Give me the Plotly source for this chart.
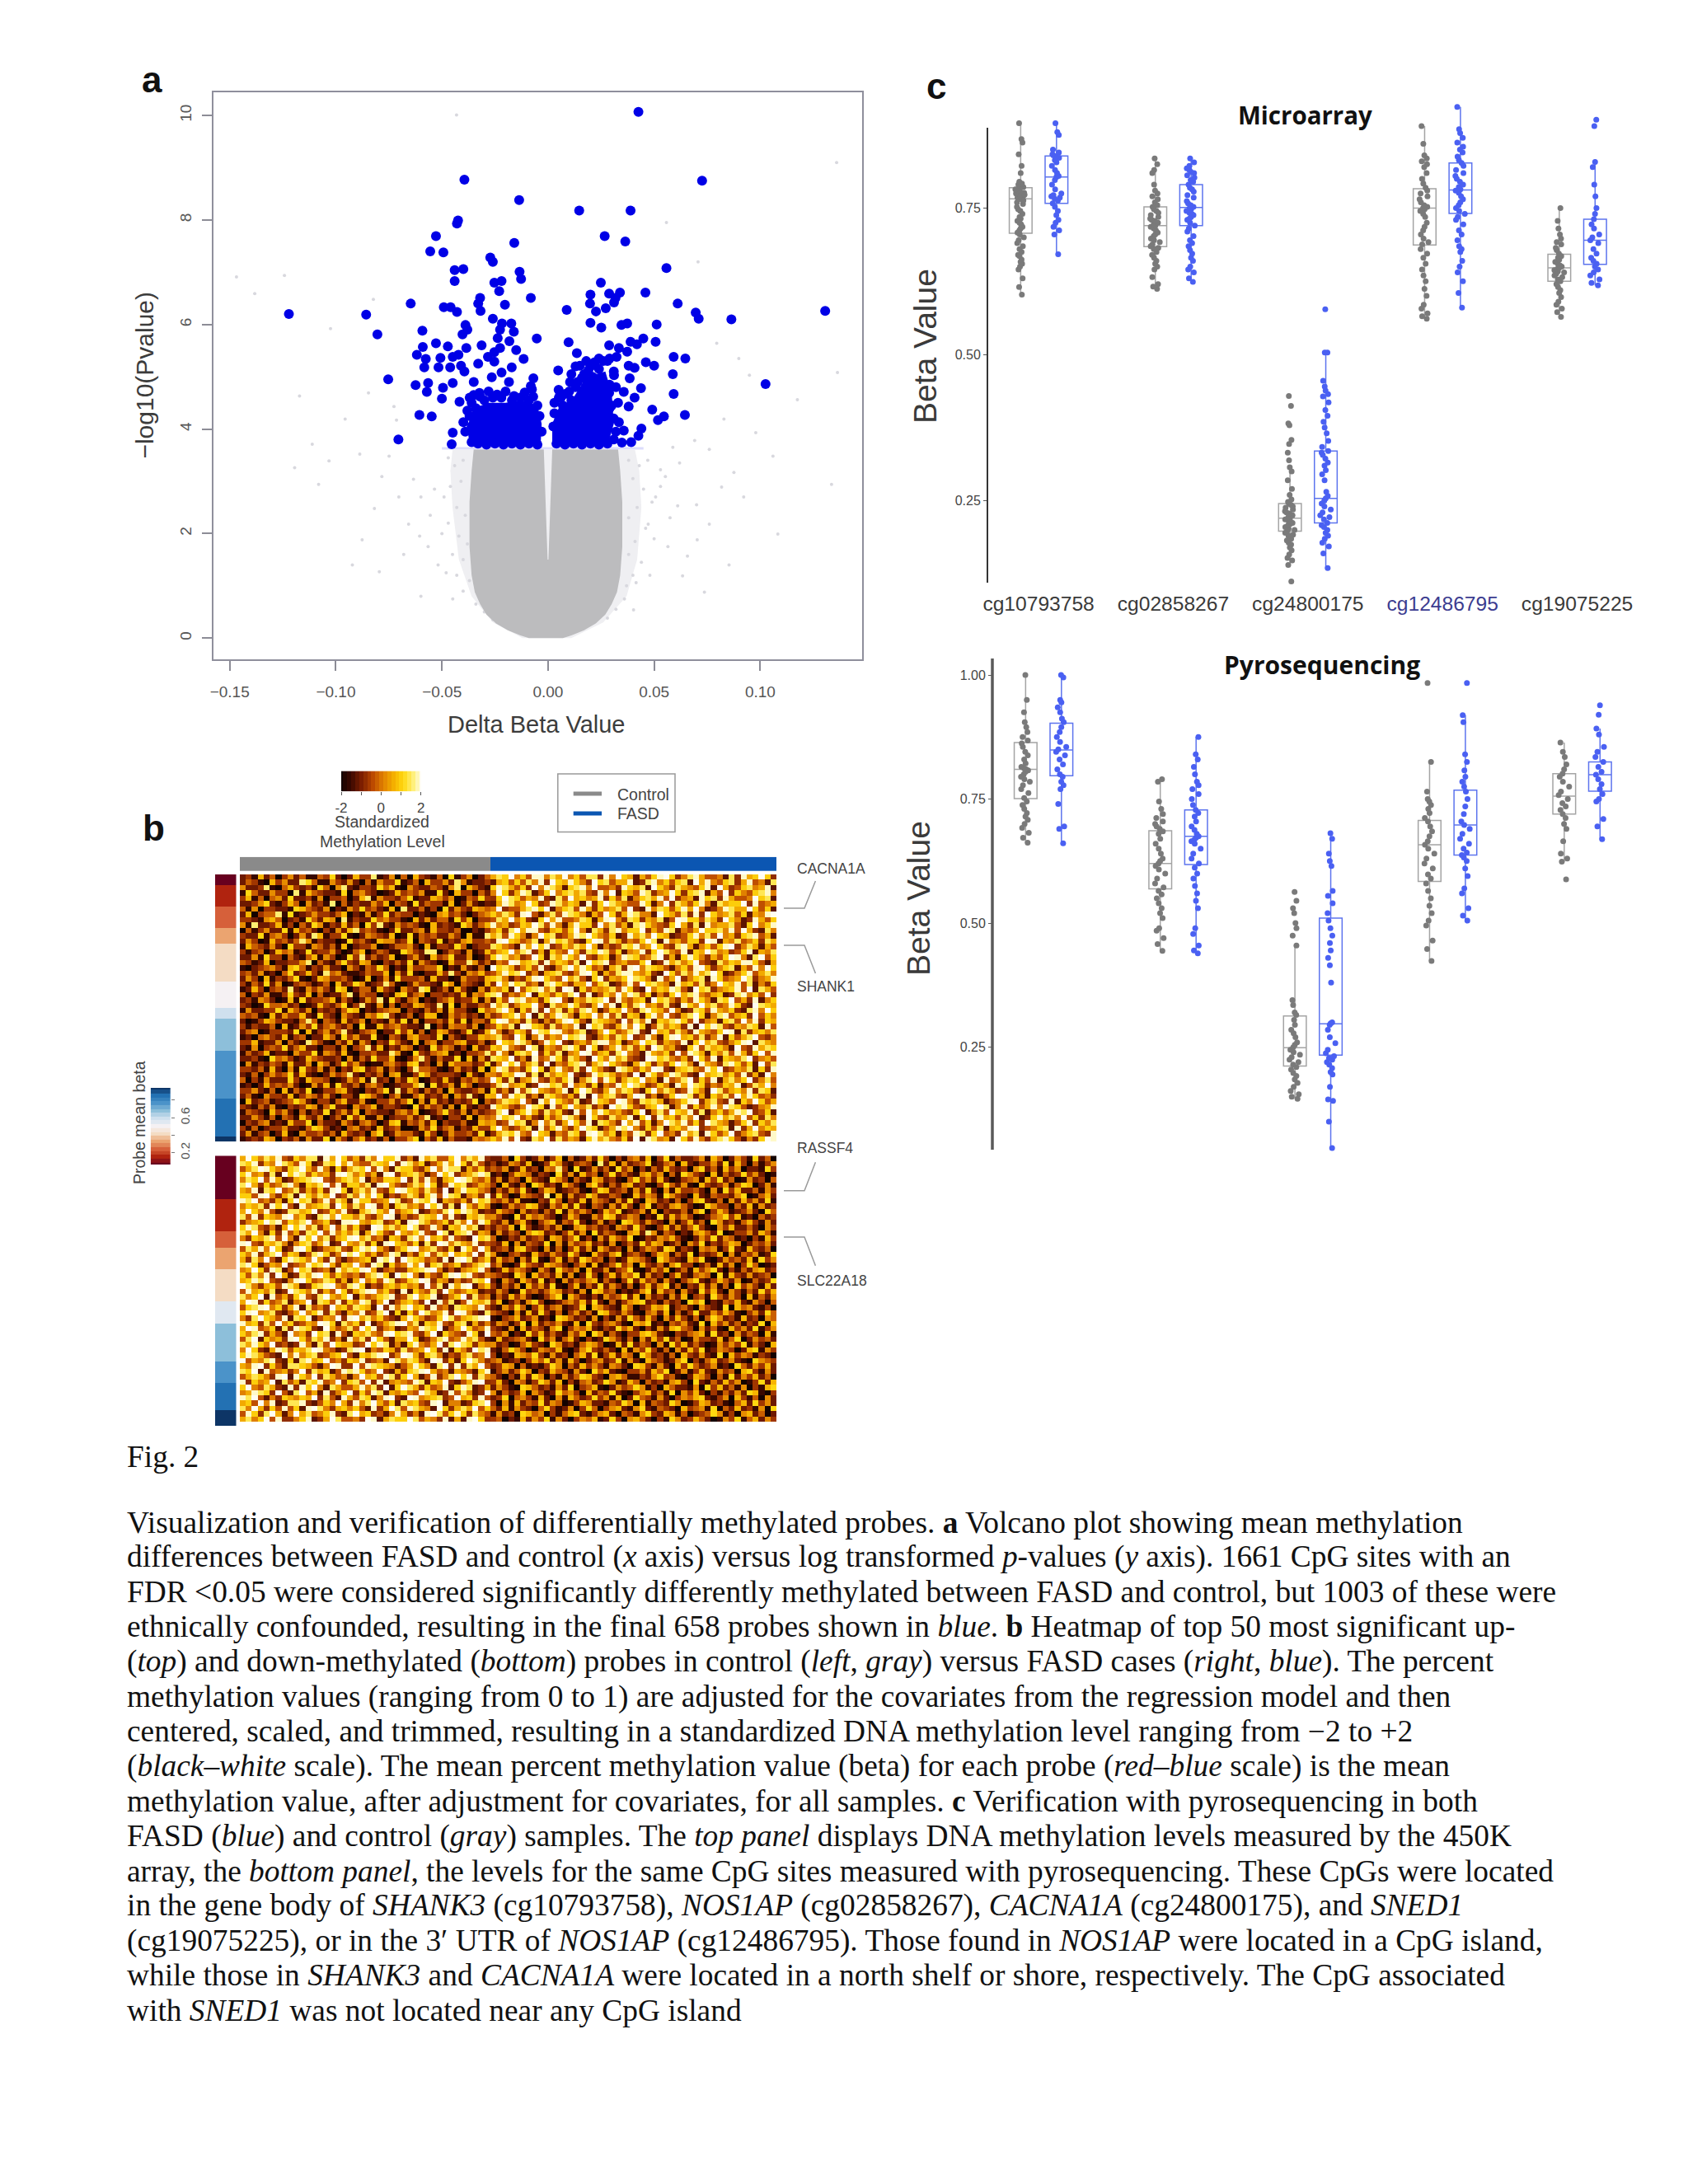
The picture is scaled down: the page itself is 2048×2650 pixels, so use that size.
import numpy as np
import plotly.graph_objects as go

W, H = 2048, 2650
def X(p): return p / W
def Y(p): return 1 - p / H
def dx(a, b): return [X(a), X(b)]
def dy(top, bottom): return [Y(bottom), Y(top)]

# ---------- panel a: volcano ----------
blue_x = [.0426,-.0394,.0726,-.0136,.0147,.0389,-.0424,-.0429,-.0528,.0267,-.0555,-.0493,-.0159,.0364,-.0272,-.0260,-.0440,-.0399,.0558,-.0134,-.0127,-.0440,-.0219,-.0253,.0249,-.0230,.0200,.0459,.0339,.0288,-.0081,-.0320,-.0329,-.0647,.0611,-.0203,.0198,.0318,.0311,-.0491,-.0459,-.0429,-.0318,.0088,.0226,.0272,-.0857,-.1221,.0696,.0710,.1306,.0864,-.0260,.0512,-.0173,-.0217,.0200,.0346,.0373,.0251,-.0389,-.0380,-.0226,-.0161,-.0804,-.0592,-.0403,-.0053,-.0237,.0507,.0449,.0419,.0389,.0097,-.0182,-.0528,-.0472,-.0590,-.0385,-.0313,-.0226,.0288,.0334,.0373,.0592,.0647,-.0618,-.0422,.0136,-.0576,-.0507,-.0449,-.0253,-.0150,-.0115,-.0283,.0323,.0461,.0500,-.0583,-.0516,-.0461,-.0410,-.0394,-.0329,-.0253,-.0171,.0048,.0588,.0150,.0380,.0408,.0311,-.0753,-.0350,-.0219,-.0265,-.0184,-.0069,-.0081,.0104,-.0624,-.0565,-.0449,-.0495,.0385,.0357,.0438,.0592,.0408,-.0571,-.0500,-.0417,-.0369,-.0323,-.0076,.0051,.0081,.1025,.0380,.0491,.0645,.0546,.0518,-.0606,-.0548,-.0705,-.0449,-.0454,-.0399,.0440,.0426,.0392,.0334,.0357,.0348,.0288,.0230,.0173,.018,.022,.026,.029,.024,.019,.013,.011,.016,.021,.025,.029,.013,.019,.023,.027,.011,.015,.020,.025,.030,.007,.003,-.035,-.03,-.026,-.022,-.017,-.013,-.009,-.005,-.034,-.037,-.03,
-.036,-.033,-.029,-.025,-.021,-.017,-.013,-.009,-.005,.004,.008,.012,.016,.02,.024,.028,.031,.032,.031,.029,-.036,-.032,-.028,-.024,-.02,-.016,-.011,-.007,-.004,-.003,-.039,-.038,-.036,.003,.006,.01,.014,.017,.02,.024,.028,.031,.032,.033,.0025,.005]
blue_y = [10.07,8.77,8.75,8.38,8.18,8.18,7.99,7.93,7.69,7.69,7.40,7.38,7.56,7.59,7.28,7.20,7.04,7.06,7.08,7.01,6.87,6.83,6.83,6.80,6.80,6.64,6.57,6.61,6.61,6.59,6.51,6.51,6.40,6.40,6.40,6.38,6.40,6.51,6.42,6.33,6.33,6.24,6.26,6.28,6.25,6.31,6.19,6.20,6.23,6.11,6.26,6.10,6.11,6.00,6.02,6.02,6.03,5.99,6.02,5.94,5.99,5.90,5.90,5.86,5.81,5.88,5.81,5.73,5.74,5.67,5.73,5.62,5.67,5.66,5.68,5.64,5.58,5.57,5.55,5.60,5.55,5.60,5.55,5.48,5.38,5.35,5.42,5.42,5.45,5.34,5.36,5.38,5.47,5.51,5.34,5.38,5.38,5.28,5.21,5.18,5.18,5.18,5.21,5.10,5.25,5.29,5.18,5.12,5.05,5.21,5.21,5.17,5.03,4.95,4.90,5.08,4.99,4.90,4.97,4.82,4.90,4.84,4.88,4.88,4.79,4.97,4.71,4.78,4.67,4.60,4.71,4.58,4.52,4.60,4.69,4.76,4.60,4.67,4.86,4.43,4.37,4.27,4.24,4.17,4.27,4.24,3.80,3.93,3.71,4.13,4.01,3.87,3.75,4.13,3.97,3.74,4.69,4.95,4.69,5.3,5.28,5.3,5.35,5.15,5.12,5.2,5.05,4.98,5.0,4.9,4.85,4.8,4.82,4.7,4.6,4.55,4.5,4.5,4.45,4.45,4.45,4.3,4.65,4.55,4.6,4.6,4.55,4.6,4.55,4.45,4.4,4.25,4.35,
3.75,3.72,3.7,3.72,3.7,3.72,3.7,3.72,3.7,3.72,3.7,3.72,3.7,3.72,3.7,3.72,3.8,3.95,4.2,4.4,4.5,4.62,4.72,4.66,4.72,4.63,4.7,4.62,4.25,3.95,3.95,4.35,4.05,4.5,4.6,4.72,4.9,5.05,5.2,5.35,5.3,5.1,4.8,4.5,4.05,4.75]
faint_x = [-.0431,.136,.0558,.0707,-.1468,-.1242,-.1382,-.0823,-.1025,.0795,.0899,.0949,.1364,.1175,-.1171,-.0846,-.1111,-.0956,.0829,.0691,.076,.0979,.106,-.1032,-.1194,-.0887,.0876,.1336,-.1081,.0818,.0922,-.0818,.0507,-.0876,.1083,.0703,-.0922,.0853,.0737,-.0599,-.0795,.0634,-.0703,-.0599,.0553,.0611,-.0749,-.0783,-.0657,-.0565,-.0518,.0472,.0565,-.0714,-.0726,.076,.0657,-.0634,.053,.0588,.0415,-.0449,.0403,-.0555,-.0605,-.0535,.0530,.0575,.0620,-.0680,.0700,
-.04,-.044,-.047,-.041,-.046,-.049,-.043,-.039,-.047,-.05,-.042,-.038,-.045,-.04,-.048,-.043,-.037,-.04,-.034,-.03,-.026,.038,.043,.047,.04,.045,.049,.042,.038,.046,.05,.041,.038,.044,.048,.04,.037,.036,.032,.028]
faint_y = [10.01,9.10,7.95,7.20,6.91,6.94,6.59,6.48,5.92,5.64,5.35,5.03,5.08,4.56,4.63,4.69,3.71,4.19,4.19,3.78,3.61,3.93,3.48,3.39,3.26,3.52,3.17,2.94,2.94,2.89,2.70,2.48,2.70,1.88,1.99,1.88,1.40,1.40,.88,.80,1.27,1.19,2.70,2.70,3.09,2.53,3.48,3.09,2.18,1.75,1.40,2.18,1.75,4.17,4.43,2.18,1.57,3.04,3.22,3.65,1.06,.75,.54,2.35,1.95,2.85,2.90,2.30,3.35,1.60,2.55,
3.4,3.3,3.45,3.0,2.9,2.7,2.5,2.35,2.2,2.0,1.95,1.8,1.6,1.5,1.25,1.2,1.1,.9,.65,.5,.35,3.4,3.3,3.4,3.05,2.85,2.6,2.5,2.3,2.1,1.9,1.85,1.6,1.45,1.2,1.2,1.0,.75,.55,.38]
halo_x = [-.012,-.026,-.036,-.042,-.045,-.046,-.045,.041,.043,.044,.042,.037,.026,.011]
halo_y = [0,.3,.8,1.5,2.5,3.2,3.6,3.6,3.2,2.5,1.5,.8,.3,0]
cloud_x = [-.009,-.013,-.019,-.0245,-.029,-.032,-.0345,-.036,-.037,-.037,-.036,-.035,-.002,-.001,-.0002,.0002,.001,.002,.033,.034,.035,.035,.034,.0325,.03,.027,.0225,.017,.011,.007]
cloud_y = [0,.05,.15,.28,.45,.65,.88,1.2,1.75,2.6,3.2,3.62,3.62,2.6,1.5,1.5,2.6,3.62,3.62,3.2,2.6,1.75,1.2,.88,.65,.45,.28,.15,.05,0]
dense_left_x = [-.037,-.038,-.035,-.028,-.02,-.012,-.005,-.003,-.0035]
dense_left_y = [3.68,4.05,4.4,4.5,4.5,4.55,4.45,4.1,3.68]
dense_right_x = [.002,.002,.005,.012,.018,.027,.030,.031,.028]
dense_right_y = [3.68,4.1,4.4,4.6,5.0,5.1,4.7,4.1,3.68]
band_x = [-.05,.045]
band_y = [3.63,3.63]
volcano_xticks = [-.15,-.10,-.05,0,.05,.10]
volcano_xlabels = ["−0.15","−0.10","−0.05","0.00","0.05","0.10"]
volcano_yticks = [0,2,4,6,8,10]

# ---------- panel b: heatmaps (0 = -2 ... 9 = +2); [control part, FASD part] ----------
heat_top_rows = [
"342735146352254830374492361507432518246135"+"576946388475946377284965153689624785334172856962475388",
"354217463398522643631526448235174463962334"+"156363748296586429673558127846367195843672583417968",
"633492157434285169324438572164335426917532"+"687536294875167849334286571964275436819523674581475",
"285336441927543328156431237454622831744153"+"496258713694675732849165387245962678153926436784752",
"472515638334260445137926443582337646125484"+"269763548217395645826371467583924518672853349671865",
"334683247516342905243364715428354427136323"+"158745962387465182697543386149275368417566928345746",
"526144332875436132648453271933524183643765"+"492335786914673852645739218476368594124875596361728",
"371455928234644357132624835440321674531356"+"647528931473876415396258744196537282964573615489362",
"443267513428537619243385644217363552847144"+"375946216958334761589427625471398663752964128536473",
"629334724153862437351849326454217343286357"+"845236597384158662947351786432695271845573169468254",
"152463382745314263794542138335627443510324"+"462795883256369417527846692538714359667483952174538",
"433825641363972448213654371282545336417229"+"573864149672358796436128574965123684739452678351846",
"364127453596243312845327663481543824367445"+"289653471586742169837524369718453662981547346275697",
"275436318442653527134460235563172443851344"+"764318596823647595142376845963278514636892475153764",
"424513756238344630257135422864399135426237"+"356947825164395276873614582697438165974523681547462",
"336284415325726412849353471246327458336124"+"687452396175864932561487634792516864253698417936583",
"542371334469153258437621435382643127449635"+"143985672846537196782453369128574693217465886315742",
"213456427852436331642548513274455813263251"+"967524638214795863415728947653146389524671538496673",
"453623158347429563223544716382133749426574"+"358679241567324896153788546219637485796124683574361",
"364172435821376445302713628444527331264437"+"674132589643957316825469764183592467186345972458526",
"425383612454235173486234952136443286154327"+"295867341786425593671248396754185637249658371426895",
"237414539326464287135527431643982352742163"+"546193678472981635457386219465873196724568391753248",
"514362248437152336925441327835614434372658"+"782435916536479281364958736142695784356127846392575",
"342653127283445725313649284256132457344726"+"163978452689315476792843561967425386417693528146937",
"431285563412374358249326151437643928153354"+"857246693174586325948163794537218649573486219765324",
"263344827536143425871324566143253627442185"+"479516382947263785136594278653941276385462178496853",
"545217364473284316432658942351377126453426"+"235684917358741659483726516849325796147835629364178",
"312476433259515427346143263826144537382553"+"698452731425896317654293748165786392451673948265746",
"424335172364835643518227456433291426553614"+"364719865273548196732584961374652819687325476183594",
"356124443817246359324561338472513763248237"+"841365297698435712596347821956374285436981725647362",
"231564372451337528463382154267443815324476"+"573296148354967821463759238416895637248163579324685",
"447233615329642153726414385327156244673352"+"296587413869214537884613596725438169573246891754327",
"326145483573314426145937243651328465241734"+"658432971543786296135847362974521683756419328576143",
"253472331644826537214453396218435672314459"+"384167592637145983562794318546293875164738526938465",
"334218564237543341625384472136942533817263"+"765924183486275319648573219867435296381654792453678",
"162435427336175248463122564378341627555348"+"149683572914367825796431586253697418542786361937524",
"443527316284362514378346253149554213634271"+"587342696158437296421875364982156743869235471628594",
"325146458373213645932435167224863444317326"+"436598271746592138675342918635874219567463825194763",
"514263338427554123647293415386124373254645"+"962714583253681479386257694518347926381574692473158",
"231374546312637284352564123447918346275133"+"378456129867394526143869752364185976243658137594826",
"446325172538124467321435829364253517433462"+"624183795435816973258476316947523864197356482761539",
"352164437246536314428753146225734361649327"+"593867241764352819467325982413698725164739586342687",
"173452345863144257336214463581627342434815"+"247659318596437128653984276751346892573281649635472",
"432536214347625833164572443218364526173243"+"865324976183695472419786325697148263584976312458163",
"254317463152438246371543325647123584362534"+"379146852746218395864532691473965827146358792361586",
"336425154274361352847226134463592314427165"+"486793521635874196327458169285637491268574936274513",
"143562327448153326425641378254637143352276"+"523867149472596381764295836149758362975413682647398",
"425134463325874231563427345112648356243744"+"694235718368425976135879426371564892346718259465837",
"362451372164453527434168236553274136445382"+"257684396514376289746153872693428571863592467328164",
"234376143526338164257342514468153725332656"+"648392175927354168574362918745196384257863142698573",
]
heat_bot_rows = [
"596475832647718596352749668241857336947582"+"335184236247152363841425637148253346275136428351743",
"768254975386127695843376592874613585962731"+"423653712486324541937263458235617324463827415246532",
"357986426795384162576938417663259487715362"+"546237341659418236352846142537434168352746133284651",
"684527196873645289746351892567413968245787"+"231476524318362745148353267461528643172534846312375",
"476938512567893246758143665927384156987435"+"362541743286415327634215846373124562748351263415348",
"795263478416579382664718953247596138672354"+"417325186342753168425367342148536217434625871362543",
"548176934725362896157483269865374291586643"+"253648314762345214873452638316274453162847335264127",
"663894257186475923748596132475268397614528"+"384126543917263486335412746528643173254436812573346",
"879342516967248375186634597238769154352867"+"546372214385143726542638317634251478325163746382451",
"465728693184567296374982516745396827195364"+"213645873264738315426374158243675312864415372634253",
"596483127756923648215786493568124379687512"+"375416342538264641375823462714335268147523463185347",
"738265489462178596647325981423765938216574"+"642183756431375226487346513283746412356847231534618",
"245697836579346218895467236189753462749386"+"436257314672548313624187536431624735186342574263425",
"687324159684725937362198574697238416585713"+"354718423536126745342653842147363584216473353164726",
"759416283527693846471586329546832971678254"+"263541687342473618354216739625413267538124463752341",
"426578394186947256895734165278495638321967"+"512436345276358241637548124365742136483652314274563",
"893265741467358129547261896536172984754823"+"437162543816264573426135384762351648243576135463284",
"375849612896124573268795314689457326186395"+"345278431625147362753416246538724316562483274351627",
"648257936513786249796352487142683759564927"+"621453274364385217436824531476253814347162546238415",
"527493168764952831345618792976534281897246"+"374516382147253864514237653186432758213645372846351",
"786135492348679526594287163485926734623578"+"462138543765314627235846174352684413527361485123746",
"459628713967234185768951342256789413145683"+"237465316428546173362458213647135274683142536734825",
"637482951275896364342578619794153268978324"+"543286174537261384147365826341473256518274363451627",
"568793214896347625159463872367982541423769"+"316427538241635467253148374526314683247536125348476",
"974256387512678943786132564645293718589146"+"425361746382147253836425147368251437362518464273156",
"385647129764825396257894631816437295346512"+"364128453576342618745132368274516328473164253847261",
"746918352683279546915346782379568124692734"+"253746312468175324264583716342637145285364172536348",
"598263471459176382648725913564291837138657"+"471352684123564738315246783425341868132547326415763",
"367894625817342956376519284795628341765483"+"326485147356234817643275134768245316432817563241574",
"689457213594682731548237916163974582984217"+"543162738425146352874364215637152483364752146385236",
"427965381768135492895746321586423697356789"+"214573462318753426142638537416374251586342734165283",
"856273946235498617462913578947165832671524"+"365248173546327184356421768231546328174635243817345",
"598346172876219534739682451254876913596348"+"432617354268146573243857314263785416352174638246513",
"647825319452967183165743896783259164328619"+"546132847353264718625314478632143567283416354172638",
"379164528963758241847296315596124783485731"+"273456318462573142386425163748351264437258136453274",
"758649231284173965523968714168435927976254"+"634125743186342576412738354162847353126464825317346",
"496215873657984312789143652734596281642978"+"325864136547213684353172648425163748236541378264513",
"687532194846723569316578924985267413257349"+"413276584263415738247365186342517436328174652431867",
"935478216178569342658234197476319825169742"+"562341475836274135634826317542368142573463218654327",
"548926317765314982293876541358641792827593"+"347615232486153746426531874263174853462318536473142",
"769183452492756138786349215267895341543168"+"246358614375426318573214463758136247326451784263615",
"357642891864927534149563872695138247968274"+"531427386142635874316752243684521376415283647351426",
"826459173517683492673928145438716592135892"+"473165248637142563486237515342674183253746124837362",
"694375218286941753358472916975263481687125"+"364218753426381457213645862417533261847352614278543",
"458762931793518246926387154643975128374129"+"625347164238564173548321467352816473142536387214635",
"879314265465927318537614892198456723956283"+"348156427316275348462713854263146578324617425163847",
"563948127782136495284795361756328914412679"+"416273548365124763325486172543861247634215738463125",
"749526383618974256463182597387541962575936"+"537264315842361485146732683254317456281537342618474",
"386279514957346821795623148524189736862743"+"263418756142578324673154268437625134586241673513486",
"574693822468125973342981576697354281518962"+"451327364826314657238416753142863475312648257364135",
]
top_level_shift = [-1.0, 0.7]   # control part, FASD part
bot_level_shift = [0.7, -1.0]
heat_scale = [[0,"#140200"],[.12,"#3a0800"],[.25,"#7c1e00"],[.4,"#bc4a00"],[.52,"#e07f00"],[.66,"#f6b300"],[.78,"#ffd810"],[.9,"#fff07c"],[1,"#fffdf0"]]
probe_top = [.065]*2+[.15]*4+[.24]*4+[.33]*3+[.415]*7+[.5]*5+[.59]*2+[.68]*6+[.765]*9+[.85]*7+[.94]*1
probe_bot = [.065]*8+[.15]*6+[.24]*3+[.33]*4+[.415]*6+[.55]*4+[.68]*7+[.765]*4+[.85]*5+[.94]*3
beta_scale = [[0,"#67001f"],[.1,"#b2240f"],[.2,"#d6603a"],[.3,"#eba26e"],[.4,"#f4dcc4"],[.5,"#f5f2f4"],[.6,"#cfe0ee"],[.7,"#8fc0da"],[.8,"#4b93c9"],[.9,"#2270b2"],[1,"#0d3566"]]
beta_legend = [.065,.11,.15,.2,.24,.29,.33,.37,.415,.46,.5,.55,.59,.63,.68,.72,.765,.81,.85,.9,.94]
std_legend = [-2,-1.8,-1.6,-1.4,-1.2,-1,-.8,-.6,-.4,-.2,0,.2,.4,.6,.8,1,1.2,1.4,1.6,1.8,2]

# ---------- panel c: boxplots ----------
cpg_labels = ["cg10793758","cg02858267","cg24800175","cg12486795","cg19075225"]
micro_gray_stats = dict(q1=[.707,.684,.198,.687,.625], median=[.766,.72,.22,.75,.648], q3=[.785,.752,.245,.783,.671], low=[.602,.612,.14,.561,.564], up=[.895,.835,.30,.89,.75])
micro_blue_stats = dict(q1=[.758,.72,.212,.741,.654], median=[.803,.751,.254,.781,.695], q3=[.839,.79,.335,.827,.731], low=[.671,.624,.135,.58,.618], up=[.895,.835,.503,.923,.829])
pyro_gray_stats = dict(q1=[.751,.569,.212,.584,.72], median=[.81,.62,.249,.658,.756], q3=[.864,.686,.313,.707,.801], low=[.662,.444,.146,.424,.624], up=[1.0,.79,.454,.825,.864])
pyro_blue_stats = dict(q1=[.797,.618,.234,.637,.766], median=[.849,.675,.297,.698,.799], q3=[.903,.728,.51,.768,.825], low=[.661,.439,.047,.504,.669], up=[1.0,.875,.681,.919,.892])

micro_gray = [
[895,868,862,842,822,810,795,792,790,788,786,784,782,780,778,776,775,773,771,770,768,766,765,763,760,757,752,748,745,740,735,732,728,725,722,718,715,712,708,705,700,695,690,685,680,675,670,668,662,658,655,650,645,630,615,602],
[835,825,815,810,790,780,775,770,765,760,755,752,748,745,742,738,735,732,730,728,725,722,720,718,715,712,708,705,702,698,695,692,688,685,682,680,675,670,665,660,655,650,645,632,620,616,612],
[429,412,382,379,354,347,332,319,307,300,285,270,260,252,248,245,243,240,238,235,232,230,228,225,222,220,218,216,214,212,210,208,205,202,200,198,195,192,190,185,182,178,175,170,165,158,152,148,140,112],
[890,860,840,835,830,825,820,810,800,792,785,780,775,770,765,760,755,752,750,748,745,740,735,725,718,712,705,698,692,688,680,672,665,655,645,635,625,612,600,585,578,570,565,561],
[750,728,715,705,698,692,688,682,678,672,668,665,662,658,655,652,650,648,646,644,642,640,638,635,632,628,625,620,615,610,605,598,590,585,578,572,564]]
micro_blue = [
[895,880,875,850,845,842,840,838,836,832,828,822,815,810,805,803,798,790,782,775,772,770,768,766,763,758,752,745,738,730,725,718,712,705,671],
[835,828,822,818,815,812,810,806,802,798,795,790,785,782,778,772,768,762,758,755,752,750,748,745,742,740,738,735,732,730,725,720,715,710,702,695,690,685,678,672,665,660,650,645,640,630,624],
[577,503,503,455,445,438,432,428,418,405,395,385,375,365,352,342,335,332,328,322,315,310,302,295,285,265,258,254,250,245,240,235,230,225,222,218,212,208,205,200,195,190,185,178,172,160,135],
[923,885,878,870,862,855,850,845,838,832,827,822,815,810,805,800,795,790,786,782,780,776,770,765,760,755,750,745,740,735,730,722,712,705,695,685,680,675,660,650,640,625,605,580],
[901,890,829,820,790,770,750,740,731,722,715,705,700,695,690,680,672,665,660,655,650,645,640,635,628,622,618]]
pyro_gray = [
[1000,950,925,905,895,885,875,868,862,855,845,838,830,822,815,812,810,808,805,800,795,790,785,778,770,762,752,745,738,730,722,715,708,700,692,682,672,662],
[790,785,745,730,720,712,705,700,695,690,685,680,670,660,650,640,630,625,620,615,608,600,590,580,572,565,558,550,540,530,520,510,490,485,470,458,444],
[563,545,530,520,500,490,475,455,345,335,320,315,305,295,285,278,270,260,255,250,245,240,235,230,225,220,215,210,205,198,192,185,178,170,162,155,150,146],
[984,825,765,750,745,738,730,722,712,705,695,685,675,665,658,650,640,630,620,610,598,590,580,565,550,535,520,505,495,465,448,424],
[864,845,835,820,810,801,795,785,775,765,758,750,742,735,728,720,712,700,690,665,640,630,624,588]]
pyro_blue = [
[1000,995,950,945,935,925,912,905,895,885,875,865,855,850,845,838,830,820,810,800,795,785,778,770,740,695,690,661],
[875,840,830,815,800,785,778,770,760,750,738,728,722,715,705,695,688,680,675,672,668,665,660,650,640,630,620,612,600,590,575,560,545,530,490,478,455,445,439],
[681,670,640,625,615,565,555,540,520,505,490,475,460,445,430,415,380,300,298,295,285,270,258,245,238,232,228,225,220,215,208,200,195,170,142,145,100,47],
[984,919,905,840,825,808,795,785,775,765,750,735,720,705,698,690,680,670,660,650,642,637,632,625,610,595,570,560,530,515,505],
[939,920,892,880,855,845,835,825,815,805,799,790,780,770,760,750,745,710,695,669]]

caption_lines = [
"Visualization and verification of differentially methylated probes. <b>a</b> Volcano plot showing mean methylation",
"differences between FASD and control (<i>x</i> axis) versus log transformed <i>p</i>-values (<i>y</i> axis). 1661 CpG sites with an",
"FDR &lt;0.05 were considered significantly differently methylated between FASD and control, but 1003 of these were",
"ethnically confounded, resulting in the final 658 probes shown in <i>blue</i>. <b>b</b> Heatmap of top 50 most significant up-",
"(<i>top</i>) and down-methylated (<i>bottom</i>) probes in control (<i>left</i>, <i>gray</i>) versus FASD cases (<i>right</i>, <i>blue</i>). The percent",
"methylation values (ranging from 0 to 1) are adjusted for the covariates from the regression model and then",
"centered, scaled, and trimmed, resulting in a standardized DNA methylation level ranging from −2 to +2",
"(<i>black–white</i> scale). The mean percent methylation value (beta) for each probe (<i>red–blue</i> scale) is the mean",
"methylation value, after adjustment for covariates, for all samples. <b>c</b> Verification with pyrosequencing in both",
"FASD (<i>blue</i>) and control (<i>gray</i>) samples. The <i>top panel</i> displays DNA methylation levels measured by the 450K",
"array, the <i>bottom panel</i>, the levels for the same CpG sites measured with pyrosequencing. These CpGs were located",
"in the gene body of <i>SHANK3</i> (cg10793758), <i>NOS1AP</i> (cg02858267), <i>CACNA1A</i> (cg24800175), and <i>SNED1</i>",
"(cg19075225), or in the 3′ UTR of <i>NOS1AP</i> (cg12486795). Those found in <i>NOS1AP</i> were located in a CpG island,",
"while those in <i>SHANK3</i> and <i>CACNA1A</i> were located in a north shelf or shore, respectively. The CpG associated",
"with <i>SNED1</i> was not located near any CpG island",
]

SANS = "Liberation Sans"
SERIF = "Liberation Serif"
fig = go.Figure()

def poly(xs, ys, color):
    fig.add_trace(go.Scatter(x=xs, y=ys, mode="lines", fill="toself", fillcolor=color, line=dict(width=0), hoverinfo="skip", xaxis="x", yaxis="y"))

poly(halo_x, halo_y, "#efeff2")
fig.add_trace(go.Scatter(x=faint_x, y=faint_y, mode="markers", marker=dict(size=4, color="#d8d8de"), xaxis="x", yaxis="y"))
poly(cloud_x, cloud_y, "#bcbcbe")
fig.add_trace(go.Scatter(x=band_x, y=band_y, mode="lines", line=dict(color="#dcdcfb", width=3), xaxis="x", yaxis="y"))
poly(dense_left_x, dense_left_y, "#0000e6")
poly(dense_right_x, dense_right_y, "#0000e6")
fig.add_trace(go.Scatter(x=blue_x, y=blue_y, mode="markers", marker=dict(size=12, color="#0000e6"), xaxis="x", yaxis="y"))

def digits(rows, shift):
    z = np.array([[int(c) for c in r.ljust(90, r[-1])[:90]] for r in rows], dtype=float)
    z[:, :42] += shift[0]
    z[:, 42:] += shift[1]
    return np.clip(z, 0, 9)

fig.add_trace(go.Heatmap(z=digits(heat_top_rows, top_level_shift), zmin=0, zmax=9, colorscale=heat_scale, showscale=False, xaxis="x2", yaxis="y2"))
fig.add_trace(go.Heatmap(z=digits(heat_bot_rows, bot_level_shift), zmin=0, zmax=9, colorscale=heat_scale, showscale=False, xaxis="x3", yaxis="y3"))
fig.add_trace(go.Heatmap(z=[[v] for v in probe_top], zmin=.065, zmax=.94, colorscale=beta_scale, showscale=False, xaxis="x4", yaxis="y4"))
fig.add_trace(go.Heatmap(z=[[v] for v in probe_bot], zmin=.065, zmax=.94, colorscale=beta_scale, showscale=False, xaxis="x5", yaxis="y5"))
fig.add_trace(go.Heatmap(z=[[0]*42+[1]*48], zmin=0, zmax=1, colorscale=[[0,"#8a8a8a"],[1,"#0b56b2"]], showscale=False, xaxis="x6", yaxis="y6"))
fig.add_trace(go.Heatmap(z=[[v] for v in beta_legend], y=beta_legend, x=[0], zmin=.065, zmax=.94, colorscale=beta_scale, showscale=False, xaxis="x7", yaxis="y7"))
fig.add_trace(go.Heatmap(z=[std_legend], x=std_legend, y=[0], zmin=-2, zmax=2, colorscale=heat_scale, showscale=False, xaxis="x8", yaxis="y8"))

GRAY_BOX, GRAY_PT = "#a4a4a4", "#7a7a7a"
BLUE_BOX, BLUE_PT = "#5d74ee", "#4a60f2"
OFFSET = 0.133

def boxes(stats, pts, offset, box_col, pt_col, xa, ya):
    for i, vals in enumerate(pts):
        fig.add_trace(go.Box(
            x=[i + 1 + offset], y=[[v / 1000 for v in vals]],
            q1=[stats["q1"][i]], median=[stats["median"][i]], q3=[stats["q3"][i]],
            lowerfence=[stats["low"][i]], upperfence=[stats["up"][i]],
            width=0.169, whiskerwidth=0, boxpoints="all", jitter=0.5, pointpos=0,
            line=dict(color=box_col, width=1.5), fillcolor="rgba(255,255,255,0)",
            marker=dict(color=pt_col, size=7), xaxis=xa, yaxis=ya, hoverinfo="skip"))

boxes(micro_gray_stats, micro_gray, -OFFSET, GRAY_BOX, GRAY_PT, "x9", "y9")
boxes(micro_blue_stats, micro_blue, OFFSET, BLUE_BOX, BLUE_PT, "x9", "y9")
boxes(pyro_gray_stats, pyro_gray, -OFFSET, GRAY_BOX, GRAY_PT, "x10", "y10")
boxes(pyro_blue_stats, pyro_blue, OFFSET, BLUE_BOX, BLUE_PT, "x10", "y10")

hidden = dict(visible=False)
cat_text = [f'<span style="color:{c}">{t}</span>' for t, c in zip(cpg_labels, ["#3a3a3a","#3a3a3a","#3a3a3a","#3c3c90","#3a3a3a"])]

layout = dict(
    width=W, height=H, margin=dict(l=0, r=0, t=0, b=0, autoexpand=False), paper_bgcolor="#ffffff", plot_bgcolor="rgba(0,0,0,0)",
    showlegend=False, font=dict(family=SANS, color="#333333"),
    xaxis=dict(domain=dx(258.6,1045.7), range=[-.1578,.1479], tickmode="array", tickvals=volcano_xticks, ticktext=volcano_xlabels,
               ticks="outside", ticklen=12, tickwidth=1.5, tickcolor="#8c8c96", showline=True, mirror=True, linecolor="#8f8f9c", linewidth=2,
               showgrid=False, zeroline=False, tickfont=dict(size=19, color="#555555"), ticklabelstandoff=10, anchor="y"),
    yaxis=dict(domain=dy(112,799.5), range=[-.399,10.443], tickmode="array", tickvals=volcano_yticks, ticktext=[str(v) for v in volcano_yticks],
               ticks="outside", ticklen=12, tickwidth=1.5, tickcolor="#8c8c96", showline=True, mirror=True, linecolor="#8f8f9c", linewidth=2,
               showgrid=False, zeroline=False, tickangle=-90, tickfont=dict(size=19, color="#555555"), ticklabelstandoff=5, anchor="x"),
    xaxis2=dict(domain=dx(291,942), anchor="y2", **hidden),
    yaxis2=dict(domain=dy(1061,1385), anchor="x2", autorange="reversed", **hidden),
    xaxis3=dict(domain=dx(291,942), anchor="y3", **hidden),
    yaxis3=dict(domain=dy(1402.3,1725), anchor="x3", autorange="reversed", **hidden),
    xaxis4=dict(domain=dx(261,286.5), anchor="y4", **hidden),
    yaxis4=dict(domain=dy(1061,1385), anchor="x4", autorange="reversed", **hidden),
    xaxis5=dict(domain=dx(261,286.5), anchor="y5", **hidden),
    yaxis5=dict(domain=dy(1402.3,1730), anchor="x5", autorange="reversed", **hidden),
    xaxis6=dict(domain=dx(291,942), anchor="y6", **hidden),
    yaxis6=dict(domain=dy(1039.7,1057), anchor="x6", **hidden),
    xaxis7=dict(domain=dx(182.7,207), anchor="y7", **hidden),
    yaxis7=dict(domain=dy(1320,1413), range=[.065,.94], anchor="x7", side="right", tickmode="array", tickvals=[.2,.4,.6,.8], ticktext=["0.2","","0.6",""],
                ticks="outside", ticklen=4, tickcolor="#777777", tickangle=-90, tickfont=dict(size=15, color="#555555"), showgrid=False, zeroline=False, showline=False),
    xaxis8=dict(domain=dx(414,510.7), range=[-2,2], anchor="y8", tickmode="array", tickvals=[-2,-1,0,1,2], ticktext=["-2","","0","","2"],
                ticks="outside", ticklen=4, tickcolor="#555555", tickfont=dict(size=17, color="#444444"), showgrid=False, zeroline=False, showline=False),
    yaxis8=dict(domain=dy(935.4,960.3), anchor="x8", **hidden),
    xaxis9=dict(domain=dx(1198,1974), range=[.62,5.37], anchor="y9", tickmode="array", tickvals=[1,2,3,4,5], ticktext=cat_text,
                ticks="", tickfont=dict(size=24.6, color="#3a3a3a"), showgrid=False, zeroline=False, showline=False),
    yaxis9=dict(domain=dy(120,715), range=[.0986,.9366], anchor="x9", tickmode="array", tickvals=[.25,.5,.75], ticktext=["0.25","0.50","0.75"],
                ticks="outside", ticklen=4, tickcolor="#555555", tickfont=dict(size=16, color="#444444"), showgrid=False, zeroline=False, showline=False),
    xaxis10=dict(domain=dx(1204,1980), range=[.62,5.37], anchor="y10", **hidden),
    yaxis10=dict(domain=dy(790,1400), range=[.0352,1.0482], anchor="x10", tickmode="array", tickvals=[.25,.5,.75,1], ticktext=["0.25","0.50","0.75","1.00"],
                 ticks="outside", ticklen=4, tickcolor="#555555", tickfont=dict(size=16, color="#444444"), showgrid=False, zeroline=False, showline=False),
)

ann = []
def text(x, y, s, size, color="#333333", family=SANS, anchor="center", angle=0):
    ann.append(dict(x=X(x), y=Y(y), xref="paper", yref="paper", text=s, showarrow=False, xanchor=anchor, yanchor="middle",
                    textangle=angle, font=dict(size=size, color=color, family=family)))

text(184, 96, "<b>a</b>", 44, "#111111")
text(186, 1004, "<b>b</b>", 44, "#111111")
text(1136, 105, "<b>c</b>", 44, "#111111")
text(650.7, 879, "Delta Beta Value", 29, "#3c3c3c")
text(175.6, 455, "−log10(Pvalue)", 30, "#3c3c3c", angle=-90)
text(463.8, 997, "Standardized", 19.5, "#444444")
text(463.8, 1021, "Methylation Level", 19.5, "#444444")
text(746.8, 963.5, "Control", 19.5, "#444444", anchor="left")
text(746.8, 987, "FASD", 19.5, "#444444", anchor="left")
text(964.5, 1054, "CACNA1A", 17.5, "#444444", anchor="left")
text(964.5, 1197, "SHANK1", 17.5, "#444444", anchor="left")
text(964.5, 1393, "RASSF4", 17.5, "#444444", anchor="left")
text(964.5, 1554, "SLC22A18", 17.5, "#444444", anchor="left")
text(168.5, 1362.6, "Probe mean beta", 19.5, "#444444", angle=-90)
text(1583.7, 139, "<b>Microarray</b>", 29.5, "#111111", family="Open Sans")
text(1603.8, 806.7, "<b>Pyrosequencing</b>", 30, "#111111", family="Open Sans")
text(1123, 420, "Beta Value", 39, "#3a3a3a", angle=-90)
text(1114, 1090, "Beta Value", 39, "#3a3a3a", angle=-90)
text(152, 1767, "Fig. 2", 37.4, "#111111", family=SERIF, anchor="left")
for i, line in enumerate(caption_lines):
    text(152, 1847 + i * 42.3, line, 37.4, "#111111", family=SERIF, anchor="left")

shp = []
def seg(pts, color="#9a9a9a", width=1.5):
    d = "M " + " L ".join(f"{X(a):.5f} {Y(b):.5f}" for a, b in pts)
    shp.append(dict(type="path", xref="paper", yref="paper", path=d, line=dict(color=color, width=width)))

seg([(951,1102),(976,1102),(989.4,1069)])
seg([(951,1147),(976,1147),(989.4,1181)])
seg([(951,1444.7),(976,1444.7),(989.4,1410.3)])
seg([(951,1501),(976,1501),(989.4,1535.7)])
seg([(1198,155),(1198,707)], "#333333", 2)
seg([(1204,799),(1204,1395)], "#5a5a5a", 3.5)
seg([(695.7,963),(730,963)], "#8a8a8a", 5)
seg([(695.7,987),(730,987)], "#0b56b2", 5)
shp.append(dict(type="rect", xref="paper", yref="paper", x0=X(676.8), x1=X(819), y0=Y(939), y1=Y(1009.5), line=dict(color="#999999", width=1.5)))

fig.update_layout(**layout, annotations=ann, shapes=shp)
fig.write_html("out.html", post_script="document.body.style.margin='0';", config={"displayModeBar": False})
